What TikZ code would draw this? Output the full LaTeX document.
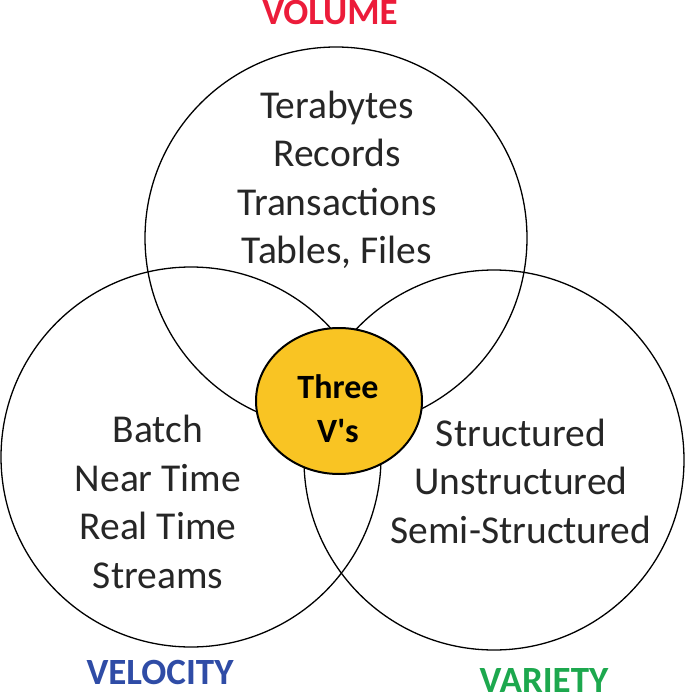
\documentclass[tikz,border=0pt]{standalone}
\usepackage{fontspec}
\setmainfont{Carlito}
\definecolor{volred}{HTML}{EC1C3A}
\definecolor{velblue}{HTML}{2F4CA6}
\definecolor{vargreen}{HTML}{1DA84E}
\definecolor{centfill}{HTML}{F9C423}
\begin{document}
\begin{tikzpicture}[x=1pt,y=-1pt]
\tikzset{
  vcircle/.style={draw=black, line width=1.3pt, circle, inner sep=0pt},
  body/.style={align=center, font=\fontsize{39.5}{48.5}\selectfont, text=black!85},
  label/.style={font=\fontsize{37}{44}\selectfont\bfseries, inner sep=0pt},
}
\useasboundingbox (0,0) rectangle (685,692);
\node[vcircle, minimum size=382pt] (vol) at (336,238) {};
\node[vcircle, minimum size=380pt] (vel) at (191,457) {};
\node[vcircle, minimum size=380pt] (var) at (494,460) {};
\fill[centfill] (339,401) ellipse [x radius=83pt, y radius=73pt];
\draw[line width=2pt] (339,401) ellipse [x radius=83pt, y radius=73pt];
\node[align=center, font=\fontsize{34}{44}\selectfont\bfseries] (ctext) at (338,409) {Three\\V\textquotesingle s};
\node[body] (voltext) at (337,180) {Terabytes\\Records\\Transactions\\Tables, Files};
\node[body] (veltext) at (158,502) {Batch\\Near Time\\Real Time\\Streams};
\node[body] (vartext) at (521,481) {Structured\\Unstructured\\Semi-Structured};
\node[label, text=volred] (vollab) at (330,13) {VOLUME};
\node[label, text=velblue] (vellab) at (160,672) {VELOCITY};
\node[label, text=vargreen] (varlab) at (544,680) {VARIETY};
\end{tikzpicture}
\end{document}
